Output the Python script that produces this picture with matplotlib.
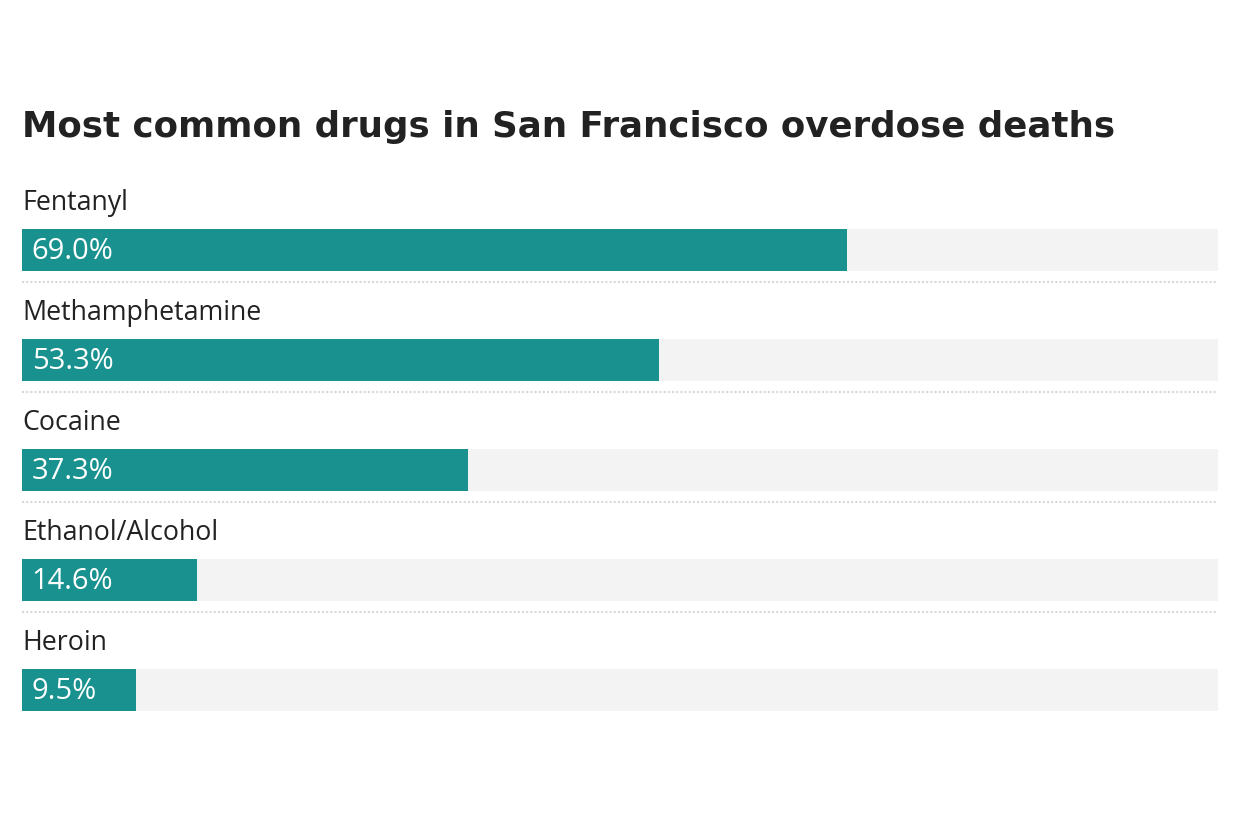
import matplotlib.pyplot as plt

# data
drugs   = ["Fentanyl", "Methamphetamine", "Cocaine", "Ethanol/Alcohol", "Heroin"]
percent = [69.0, 53.3, 37.3, 14.6, 9.5]

teal  = "#18918f"
track = "#f3f3f3"

W, H = 1240, 827
fig = plt.figure(figsize=(W / 100, H / 100), dpi=100)

# axes placed so one row = 110 px
top_px, bot_px = 250 - 0.9 * 110, 250 + 4.9 * 110
ax = fig.add_axes([22 / W, 1 - bot_px / H, 1196 / W, (bot_px - top_px) / H])
ax.set_xlim(0, 100)
ax.set_ylim(4.9, -0.9)
ax.axis("off")

rows = range(len(drugs))
ax.barh(rows, [100] * len(drugs), height=0.382, color=track, linewidth=0)
ax.barh(rows, percent, height=0.382, color=teal, linewidth=0)

for i, (name, p) in enumerate(zip(drugs, percent)):
    ax.text(0.05, i - 0.43, name, fontsize=19.3, color="#222222",
            family="Open Sans", va="center", ha="left")
    ax.annotate(f"{p:.1f}%", xy=(0, i), xytext=(7, -1), textcoords="offset points",
                fontsize=21, color="white", family="Open Sans", va="center", ha="left")
    if i < len(drugs) - 1:
        ax.plot([0, 100], [i + 0.29, i + 0.29], color="#d8d8d8",
                linestyle=(0, (1, 1)), linewidth=1.5)

fig.text(22 / W, 1 - 127 / H, "Most common drugs in San Francisco overdose deaths",
         fontsize=25.7, fontweight="bold", family="DejaVu Sans", color="#222222",
         va="center", ha="left")

fig.savefig("out.png", dpi=100, facecolor="white")
